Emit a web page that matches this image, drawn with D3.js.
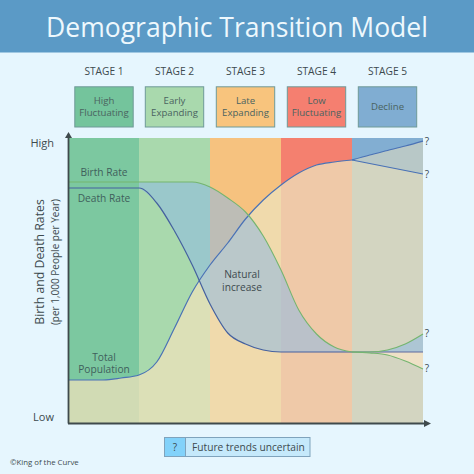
<!DOCTYPE html>
<html><head><meta charset="utf-8">
<script src="https://cdn.jsdelivr.net/npm/d3@7"></script>
<style>html,body{margin:0;padding:0;background:#e6f6fe}svg{display:block}text{font-family:"Open Sans",sans-serif;fill:#3d4a4e}</style>
</head><body><svg id="c" width="474" height="474"></svg>
<script>
const stages=["STAGE 1","STAGE 2","STAGE 3","STAGE 4","STAGE 5"];
const stageNames=[["High","Fluctuating"],["Early","Expanding"],["Late","Expanding"],["Low","Fluctuating"],["Decline"]];
const stageColors=["#7cc8a0","#a9d9ad","#f6c27f","#f4806f","#82aed2"];
const boxColors=["#74c49c","#a9d9ad","#f8c47d","#f57f70","#80add2"];
const yTicks=[280,6];
const yTickLabels=["High","Low"];
// shared grid, in stage units
const gridMain=[0,.25,.5,.75,1,1.25,1.5,1.75,2,2.25,2.5,2.75,3,3.25,3.5,3.75,4];
const gridFuture=[4,4.25,4.5,4.75,5];
const birthRate=[241,241,241,241,241,241,241,241,236,225,211,187,153,113,89,76,71];
const deathRate=[235,235,235,235,235,220,192,158,119,90,79,73,71,71,71,71,71];
const totalPop=[43,43,43,45,48,61,95,131,158,180,204,223,238,250,258,261,263];
const birthHigh=[71,71,73,79,89];
const birthLow=[71,70,68,62,54];
const deathFuture=[71,71,71,71,71];
const popHigh=[263,268,272.5,277,282];
const popLow=[263,259.5,256,252.5,249];

const svg=d3.select("#c");
const x=d3.scaleLinear().domain([0,5]).range([68,423]);
const y=d3.scaleLinear().domain([0,285]).range([423,138]);
const W=474;
const anno=(t,px,py,size,a="middle",fill="#3d4a4e")=>svg.append("text").attr("x",px).attr("y",py).attr("font-size",size).attr("text-anchor",a).attr("fill",fill).style("fill",fill).text(t);

svg.append("rect").attr("width",W).attr("height",474).attr("fill","#e6f6fe");
svg.append("rect").attr("width",W).attr("height",52.5).attr("fill","#5b9ac6");
anno("Demographic Transition Model",237,37,26.5,"middle","#eef8fd");

// stage headers
stages.forEach((s,i)=>{
  const cx=x(i+.5)+(i==0?.5:0);
  anno(s,cx,75,10.2);
  svg.append("rect").attr("x",cx-29.2).attr("y",86.8).attr("width",58.4).attr("height",40.2)
    .attr("fill",boxColors[i]).attr("stroke","#6f9a98").attr("stroke-width",1);
  const ls=stageNames[i];
  ls.forEach((l,j)=>anno(l,cx,(ls.length==1?110:104)+j*12,9.6,"middle","#4a6360"));
});

// stage columns
svg.append("g").selectAll("rect").data(stageColors).join("rect")
  .attr("x",(d,i)=>x(i)).attr("width",(d,i)=>x(i+1)-x(i)).attr("y",y(285)).attr("height",y(0)-y(285)).attr("fill",d=>d);

const mk=(grid,a,b)=>grid.map((g,i)=>({x:g,a:a[i],b:b?b[i]:0}));
const area=d3.area().x(d=>x(d.x)).y0(d=>y(d.b)).y1(d=>y(d.a)).curve(d3.curveMonotoneX);
const line=d3.line().x(d=>x(d.x)).y(d=>y(d.a)).curve(d3.curveMonotoneX);
const addArea=(data,fill,op)=>svg.append("path").attr("d",area(data)).attr("fill",fill).attr("fill-opacity",op);
const addLine=(data,c,w)=>svg.append("path").attr("d",line(data)).attr("fill","none").attr("stroke",c).attr("stroke-width",w);

// under population
addArea(mk(gridMain,totalPop),"#eee1bb",.75);
addArea(mk(gridFuture,popLow),"#eee1bb",.75);
addArea(mk(gridFuture,popHigh,popLow),"#eee1bb",.5);
// natural increase
addArea(mk(gridMain,birthRate,deathRate).slice(4),"#8ebae3",.55);
addArea(mk(gridFuture,birthHigh,deathFuture),"#8ebae3",.55);
addArea(mk(gridFuture,deathFuture,birthLow),"#efe2c6",.95);

// lines
addLine(mk(gridMain,totalPop),"#4a72b6",1.2);
addLine(mk(gridFuture,popHigh),"#4a72b6",1.2);
addLine(mk(gridFuture,popLow),"#4a72b6",1.2);
addLine(mk(gridMain,deathRate),"#45619f",1.2);
addLine(mk(gridFuture,deathFuture),"#5c6aa0",1.2);
addLine(mk(gridMain,birthRate),"#74b56f",1.1);
addLine(mk(gridFuture,birthHigh),"#74b56f",1.1);
addLine(mk(gridFuture,birthLow),"#74b56f",1.1);

// axes
const yAxis=d3.axisLeft(y).tickValues(yTicks).tickSize(0).tickPadding(14).tickFormat((d,i)=>yTickLabels[i]);
const ga=svg.append("g").attr("transform","translate(68,0)").call(yAxis);
ga.select(".domain").remove();
ga.selectAll("text").attr("font-size",11).style("font-family",'"Open Sans",sans-serif').style("fill","#3d4a4e");
const ax="#3f4a4c";
svg.append("path").attr("d","M68.5 423.5V137").attr("stroke",ax).attr("stroke-width",1.8).attr("fill","none");
svg.append("path").attr("d","M68 423.5H425").attr("stroke",ax).attr("stroke-width",1.8).attr("fill","none");
svg.append("path").attr("d","M68.5 132L65 138H72Z").attr("fill",ax);
svg.append("path").attr("d","M431 423.5L424 420V427Z").attr("fill",ax);

// axis titles
svg.append("text").attr("transform","translate(44,262) rotate(-90)").attr("text-anchor","middle").attr("font-size",12.3).text("Birth and Death Rates");
svg.append("text").attr("transform","translate(59,262) rotate(-90)").attr("text-anchor","middle").attr("font-size",10).text("(per 1,000 People per Year)");

// annotations
anno("Birth Rate",104,176,10.2,"middle","#3f5f5c");
anno("Death Rate",104,202,10.2,"middle","#3f5f5c");
anno("Total",104,361,10.2,"middle","#3f5f5c");
anno("Population",104,373,10.2,"middle","#3f5f5c");
anno("Natural",242,278,10.2);
anno("increase",242,290.5,10.2);
[145,178,337,372].forEach(p=>anno("?",427,p,10,"middle"));

// legend
svg.append("rect").attr("x",164.5).attr("y",437.5).attr("width",145.5).attr("height",19).attr("fill","#c5e9fb").attr("stroke","#7fa3bc");
svg.append("rect").attr("x",164.5).attr("y",437.5).attr("width",21).attr("height",19).attr("fill","#82d2fa").attr("stroke","#7fa3bc");
anno("?",175,451,10);
anno("Future trends uncertain",192,451,10.2,"start");
anno("©King of the Curve",10,465,7.8,"start");
</script></body></html>
